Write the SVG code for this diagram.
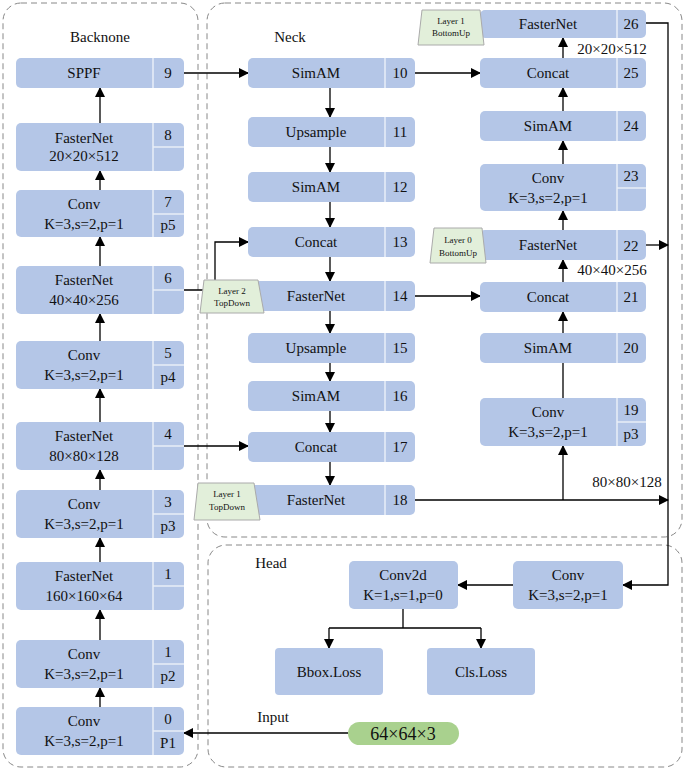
<svg xmlns="http://www.w3.org/2000/svg" width="685" height="770" viewBox="0 0 685 770" font-family="'Liberation Serif','Times New Roman','DejaVu Serif',serif">
<defs>
<marker id="ah" markerWidth="10" markerHeight="10" refX="9" refY="5" orient="auto" markerUnits="userSpaceOnUse"><path d="M0,0 L10,5 L0,10 Z" fill="#000"/></marker>
</defs>
<style>
.p{fill:none;stroke:#888;stroke-dasharray:6,4;stroke-width:1}
.n{fill:#b4c6e7}
.d{stroke:#e8eef8;stroke-width:1.5}
text{font-family:'Liberation Serif','Times New Roman','DejaVu Serif',serif;font-size:15px;fill:#111;text-anchor:middle}
.s{font-size:9px}
.t{fill:#e2efda;stroke:#aaa}
.c path{fill:none;stroke:#000;stroke-width:1.3}
</style>
<rect width="685" height="770" fill="#fff"/>
<rect class="p" x="3" y="3" width="195" height="764" rx="18"/>
<rect class="p" x="207" y="3" width="475" height="534" rx="18"/>
<rect class="p" x="208" y="545" width="474" height="222" rx="18"/>
<text x="100" y="42">Backnone</text>
<text x="290" y="42">Neck</text>
<text x="271" y="568">Head</text>
<text x="273" y="722">Input</text>

<g class="c">
<path d="M184,73 H248" marker-end="url(#ah)"/>
<path d="M415,73 H480" marker-end="url(#ah)"/>
<path d="M100,123 V88" marker-end="url(#ah)"/>
<path d="M100,190 V171" marker-end="url(#ah)"/>
<path d="M100,266 V237" marker-end="url(#ah)"/>
<path d="M100,341 V314" marker-end="url(#ah)"/>
<path d="M100,422 V389" marker-end="url(#ah)"/>
<path d="M100,490 V470" marker-end="url(#ah)"/>
<path d="M100,562 V538" marker-end="url(#ah)"/>
<path d="M100,640 V610" marker-end="url(#ah)"/>
<path d="M100,707 V688" marker-end="url(#ah)"/>
<path d="M330,88 V117" marker-end="url(#ah)"/>
<path d="M330,147 V172" marker-end="url(#ah)"/>
<path d="M330,202 V227" marker-end="url(#ah)"/>
<path d="M330,257 V281" marker-end="url(#ah)"/>
<path d="M330,311 V333" marker-end="url(#ah)"/>
<path d="M330,363 V381" marker-end="url(#ah)"/>
<path d="M330,411 V432" marker-end="url(#ah)"/>
<path d="M330,462 V485" marker-end="url(#ah)"/>
<path d="M184,290 H215 V242 H248" marker-end="url(#ah)"/>
<path d="M415,296 H480" marker-end="url(#ah)"/>
<path d="M184,446 H248" marker-end="url(#ah)"/>
<path d="M415,500 H668" marker-end="url(#ah)"/>
<path d="M563,500 V446" marker-end="url(#ah)"/>
<path d="M563,398 V363"/>
<path d="M563,333 V312" marker-end="url(#ah)"/>
<path d="M563,282 V260" marker-end="url(#ah)"/>
<path d="M563,230 V211" marker-end="url(#ah)"/>
<path d="M563,164 V141" marker-end="url(#ah)"/>
<path d="M563,111 V88" marker-end="url(#ah)"/>
<path d="M563,58 V38" marker-end="url(#ah)"/>
<path d="M646,245 H668" marker-end="url(#ah)"/>
<path d="M646,23 H668 V585 H623" marker-end="url(#ah)"/>
<path d="M513,585 H458" marker-end="url(#ah)"/>
<path d="M403,608 V628 M329,628 H481"/>
<path d="M329,628 V648" marker-end="url(#ah)"/>
<path d="M481,628 V648" marker-end="url(#ah)"/>
<path d="M348,733 H184" marker-end="url(#ah)"/>
</g>

<g id="b9"><rect class="n" x="16" y="58" width="168" height="30" rx="5"/><path class="d" d="M153,58 V88"/><text x="84" y="78">SPPF</text><text x="168" y="78">9</text></g>
<g id="b8"><rect class="n" x="16" y="123" width="168" height="48" rx="5"/><path class="d" d="M153,123 V171 M153,147 H184"/><text x="84" y="143">FasterNet</text><text x="84" y="161">20×20×512</text><text x="168" y="140">8</text></g>
<g id="b7"><rect class="n" x="16" y="190" width="168" height="47" rx="5"/><path class="d" d="M153,190 V237 M153,214 H184"/><text x="84" y="209">Conv</text><text x="84" y="229">K=3,s=2,p=1</text><text x="168" y="207">7</text><text x="168" y="230">p5</text></g>
<g id="b6"><rect class="n" x="16" y="266" width="168" height="48" rx="5"/><path class="d" d="M153,266 V314 M153,290 H184"/><text x="84" y="285">FasterNet</text><text x="84" y="305">40×40×256</text><text x="168" y="283">6</text></g>
<g id="b5"><rect class="n" x="16" y="341" width="168" height="48" rx="5"/><path class="d" d="M153,341 V389 M153,365 H184"/><text x="84" y="360">Conv</text><text x="84" y="380">K=3,s=2,p=1</text><text x="168" y="358">5</text><text x="168" y="382">p4</text></g>
<g id="b4"><rect class="n" x="16" y="422" width="168" height="48" rx="5"/><path class="d" d="M153,422 V470 M153,446 H184"/><text x="84" y="441">FasterNet</text><text x="84" y="461">80×80×128</text><text x="168" y="439">4</text></g>
<g id="b3"><rect class="n" x="16" y="490" width="168" height="48" rx="5"/><path class="d" d="M153,490 V538 M153,514 H184"/><text x="84" y="509">Conv</text><text x="84" y="529">K=3,s=2,p=1</text><text x="168" y="507">3</text><text x="168" y="531">p3</text></g>
<g id="b1b"><rect class="n" x="16" y="562" width="168" height="48" rx="5"/><path class="d" d="M153,562 V610 M153,586 H184"/><text x="84" y="581">FasterNet</text><text x="84" y="601">160×160×64</text><text x="168" y="579">1</text></g>
<g id="b1a"><rect class="n" x="16" y="640" width="168" height="48" rx="5"/><path class="d" d="M153,640 V688 M153,664 H184"/><text x="84" y="659">Conv</text><text x="84" y="679">K=3,s=2,p=1</text><text x="168" y="657">1</text><text x="168" y="681">p2</text></g>
<g id="b0"><rect class="n" x="16" y="707" width="168" height="48" rx="5"/><path class="d" d="M153,707 V755 M153,731 H184"/><text x="84" y="726">Conv</text><text x="84" y="746">K=3,s=2,p=1</text><text x="168" y="724">0</text><text x="168" y="748">P1</text></g>

<g id="n10"><rect class="n" x="248" y="58" width="167" height="30" rx="5"/><path class="d" d="M385,58 V88"/><text x="316" y="78">SimAM</text><text x="400" y="78">10</text></g>
<g id="n11"><rect class="n" x="248" y="117" width="167" height="30" rx="5"/><path class="d" d="M385,117 V147"/><text x="316" y="137">Upsample</text><text x="400" y="137">11</text></g>
<g id="n12"><rect class="n" x="248" y="172" width="167" height="30" rx="5"/><path class="d" d="M385,172 V202"/><text x="316" y="192">SimAM</text><text x="400" y="192">12</text></g>
<g id="n13"><rect class="n" x="248" y="227" width="167" height="30" rx="5"/><path class="d" d="M385,227 V257"/><text x="316" y="247">Concat</text><text x="400" y="247">13</text></g>
<g id="n14"><rect class="n" x="248" y="281" width="167" height="30" rx="5"/><path class="d" d="M385,281 V311"/><text x="316" y="301">FasterNet</text><text x="400" y="301">14</text></g>
<g id="n15"><rect class="n" x="248" y="333" width="167" height="30" rx="5"/><path class="d" d="M385,333 V363"/><text x="316" y="353">Upsample</text><text x="400" y="353">15</text></g>
<g id="n16"><rect class="n" x="248" y="381" width="167" height="30" rx="5"/><path class="d" d="M385,381 V411"/><text x="316" y="401">SimAM</text><text x="400" y="401">16</text></g>
<g id="n17"><rect class="n" x="248" y="432" width="167" height="30" rx="5"/><path class="d" d="M385,432 V462"/><text x="316" y="452">Concat</text><text x="400" y="452">17</text></g>
<g id="n18"><rect class="n" x="248" y="485" width="167" height="30" rx="5"/><path class="d" d="M385,485 V515"/><text x="316" y="505">FasterNet</text><text x="400" y="505">18</text></g>

<g id="n26"><rect class="n" x="480" y="10" width="166" height="28" rx="5"/><path class="d" d="M617,10 V38"/><text x="548" y="29">FasterNet</text><text x="631" y="29">26</text></g>
<g id="n25"><rect class="n" x="480" y="58" width="166" height="30" rx="5"/><path class="d" d="M617,58 V88"/><text x="548" y="78">Concat</text><text x="631" y="78">25</text></g>
<g id="n24"><rect class="n" x="480" y="111" width="166" height="30" rx="5"/><path class="d" d="M617,111 V141"/><text x="548" y="131">SimAM</text><text x="631" y="131">24</text></g>
<g id="n23"><rect class="n" x="480" y="164" width="166" height="47" rx="5"/><path class="d" d="M617,164 V211 M617,188 H646"/><text x="548" y="183">Conv</text><text x="548" y="203">K=3,s=2,p=1</text><text x="631" y="181">23</text></g>
<g id="n22"><rect class="n" x="480" y="230" width="166" height="30" rx="5"/><path class="d" d="M617,230 V260"/><text x="548" y="250">FasterNet</text><text x="631" y="251">22</text></g>
<g id="n21"><rect class="n" x="480" y="282" width="166" height="30" rx="5"/><path class="d" d="M617,282 V312"/><text x="548" y="302">Concat</text><text x="631" y="302">21</text></g>
<g id="n20"><rect class="n" x="480" y="333" width="166" height="30" rx="5"/><path class="d" d="M617,333 V363"/><text x="548" y="353">SimAM</text><text x="631" y="353">20</text></g>
<g id="n19"><rect class="n" x="480" y="398" width="166" height="48" rx="5"/><path class="d" d="M617,398 V446 M617,422 H646"/><text x="548" y="417">Conv</text><text x="548" y="437">K=3,s=2,p=1</text><text x="631" y="415">19</text><text x="631" y="439">p3</text></g>

<text x="612" y="54">20×20×512</text>
<text x="612" y="275">40×40×256</text>
<text x="627" y="487">80×80×128</text>

<g id="t1"><path class="t" d="M422,10 H480 L484,45 H418 Z"/><text class="s" x="451" y="24">Layer 1</text><text class="s" x="451" y="36">BottomUp</text></g>
<g id="t0"><path class="t" d="M434,228 H482 L486,263 H430 Z"/><text class="s" x="458" y="243">Layer 0</text><text class="s" x="458" y="256">BottomUp</text></g>
<g id="t2"><path class="t" d="M204,280 H258 L264,313 H200 Z"/><text class="s" x="232" y="294">Layer 2</text><text class="s" x="232" y="306">TopDown</text></g>
<g id="t3"><path class="t" d="M198,483 H254 L260,520 H194 Z"/><text class="s" x="227" y="497">Layer 1</text><text class="s" x="227" y="510">TopDown</text></g>

<g id="hconv"><rect class="n" x="513" y="561" width="110" height="48" rx="5"/><text x="568" y="580">Conv</text><text x="568" y="600">K=3,s=2,p=1</text></g>
<g id="hconv2d"><rect class="n" x="349" y="561" width="109" height="48" rx="5"/><text x="403" y="580">Conv2d</text><text x="403" y="600">K=1,s=1,p=0</text></g>
<g id="bbox"><rect class="n" x="275" y="648" width="108" height="47" rx="4"/><text x="329" y="677">Bbox.Loss</text></g>
<g id="cls"><rect class="n" x="427" y="648" width="108" height="47" rx="4"/><text x="481" y="677">Cls.Loss</text></g>
<g id="input"><rect x="348" y="722" width="111" height="23" rx="11.5" fill="#a9d18e"/><text x="403" y="740" style="font-size:18px">64×64×3</text></g>
</svg>
